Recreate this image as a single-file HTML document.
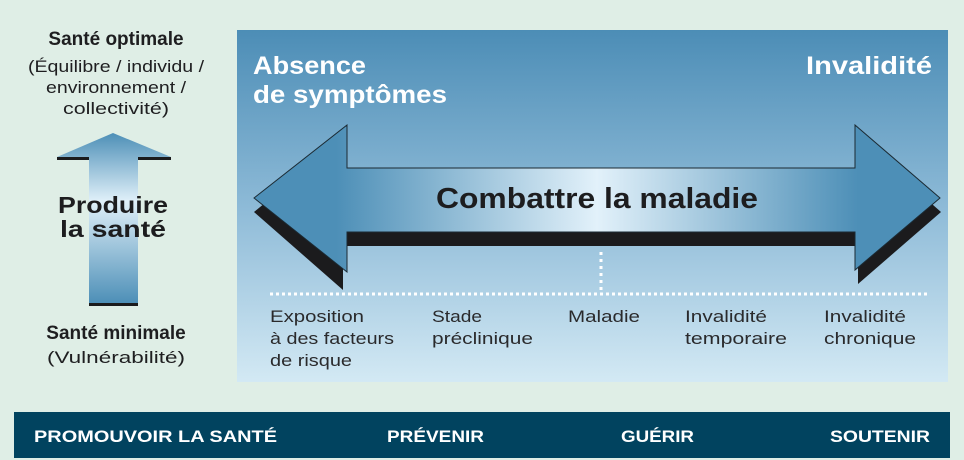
<!DOCTYPE html>
<html><head><meta charset="utf-8"><style>
html,body{margin:0;padding:0;background:#dfeee6;width:964px;height:460px;overflow:hidden}
svg{display:block}
text{font-family:"Liberation Sans",sans-serif}
</style></head><body>
<svg width="964" height="460" viewBox="0 0 964 460" xmlns="http://www.w3.org/2000/svg">
<defs>
<linearGradient id="pg" x1="0" y1="0" x2="0" y2="1">
<stop offset="0" stop-color="#4c8db6"/><stop offset="0.5" stop-color="#8dbad7"/><stop offset="1" stop-color="#d3e9f4"/>
</linearGradient>
<linearGradient id="ag" x1="0" y1="0" x2="1" y2="0">
<stop offset="0" stop-color="#4d8fb7"/><stop offset="0.12" stop-color="#4d8fb7"/><stop offset="0.5" stop-color="#e2f1fa"/><stop offset="0.88" stop-color="#4d8fb7"/><stop offset="1" stop-color="#4d8fb7"/>
</linearGradient>
<linearGradient id="vg" x1="0" y1="0" x2="0" y2="1">
<stop offset="0" stop-color="#4d8fb7"/><stop offset="0.4" stop-color="#e0f0f9"/><stop offset="1" stop-color="#4d8fb7"/>
</linearGradient>
</defs>
<rect x="237" y="30" width="711" height="352" fill="url(#pg)"/>
<!-- shadow: shifted copy -->
<polygon transform="translate(-2,14)" points="256,198 345,125 345,168 860,168 860,125 943,198 860,270 860,232 345,232 345,276" fill="#1b1b1d"/>
<rect x="300" y="247" width="600" height="60" fill="url(#pg)" clip-path="none" opacity="0"/>
<!-- big arrow -->
<polygon points="254,198 347,125 347,168 855,168 855,125 940,198 855,270 855,232 347,232 347,272" fill="url(#ag)" stroke="#1b2a33" stroke-width="1"/>
<text x="597" y="208" text-anchor="middle" font-size="29" font-weight="bold" fill="#1d1d1f" textLength="322" lengthAdjust="spacingAndGlyphs">Combattre la maladie</text>
<line x1="601" y1="252" x2="601" y2="290" stroke="#fff" stroke-width="3" stroke-dasharray="3,4"/>
<line x1="270" y1="294" x2="930" y2="294" stroke="#fff" stroke-width="3" stroke-dasharray="3,3"/>
<text x="253" y="74" font-size="25" font-weight="bold" fill="#fff" textLength="113" lengthAdjust="spacingAndGlyphs">Absence</text>
<text x="253" y="103" font-size="25" font-weight="bold" fill="#fff" textLength="194" lengthAdjust="spacingAndGlyphs">de symptômes</text>
<text x="932" y="74" text-anchor="end" font-size="25" font-weight="bold" fill="#fff" textLength="126" lengthAdjust="spacingAndGlyphs">Invalidité</text>
<g font-size="17" fill="#2a2a2c" lengthAdjust="spacingAndGlyphs">
<text x="270" y="322" textLength="94" lengthAdjust="spacingAndGlyphs">Exposition</text><text x="270" y="344" textLength="124" lengthAdjust="spacingAndGlyphs">à des facteurs</text><text x="270" y="366" textLength="82" lengthAdjust="spacingAndGlyphs">de risque</text>
<text x="432" y="322" textLength="50" lengthAdjust="spacingAndGlyphs">Stade</text><text x="432" y="344" textLength="101" lengthAdjust="spacingAndGlyphs">préclinique</text>
<text x="568" y="322" textLength="72" lengthAdjust="spacingAndGlyphs">Maladie</text>
<text x="685" y="322" textLength="82" lengthAdjust="spacingAndGlyphs">Invalidité</text><text x="685" y="344" textLength="102" lengthAdjust="spacingAndGlyphs">temporaire</text>
<text x="824" y="322" textLength="82" lengthAdjust="spacingAndGlyphs">Invalidité</text><text x="824" y="344" textLength="92" lengthAdjust="spacingAndGlyphs">chronique</text>
</g>
<!-- left -->
<g fill="#1e1e20" text-anchor="middle">
<text x="116" y="45" font-size="19" font-weight="bold">Santé optimale</text>
<text x="116" y="72" font-size="17" textLength="176" lengthAdjust="spacingAndGlyphs">(Équilibre / individu /</text>
<text x="116" y="93" font-size="17" textLength="140" lengthAdjust="spacingAndGlyphs">environnement /</text>
<text x="116" y="114" font-size="17" textLength="106" lengthAdjust="spacingAndGlyphs">collectivité)</text>
<text x="116" y="339" font-size="19" font-weight="bold">Santé minimale</text>
<text x="116" y="363" font-size="17" textLength="138" lengthAdjust="spacingAndGlyphs">(Vulnérabilité)</text>
</g>
<rect x="57" y="157" width="114" height="3" fill="#1b1b1d"/>
<rect x="89" y="303" width="49" height="3" fill="#1b1b1d"/>
<polygon points="113,133 171,157 138,157 138,303 89,303 89,157 57,157" fill="url(#vg)"/>
<text x="113" y="213" text-anchor="middle" font-size="23" font-weight="bold" fill="#1d1d1f" textLength="110" lengthAdjust="spacingAndGlyphs">Produire</text>
<text x="113" y="237" text-anchor="middle" font-size="23" font-weight="bold" fill="#1d1d1f" textLength="106" lengthAdjust="spacingAndGlyphs">la santé</text>
<!-- bottom bar -->
<rect x="14" y="412" width="936" height="46" fill="#01435f"/>
<g font-size="17" font-weight="bold" fill="#fff">
<text x="34" y="442" textLength="243" lengthAdjust="spacingAndGlyphs">PROMOUVOIR LA SANTÉ</text>
<text x="387" y="442" textLength="97" lengthAdjust="spacingAndGlyphs">PRÉVENIR</text>
<text x="621" y="442" textLength="73" lengthAdjust="spacingAndGlyphs">GUÉRIR</text>
<text x="830" y="442" textLength="100" lengthAdjust="spacingAndGlyphs">SOUTENIR</text>
</g>
</svg>
</body></html>
